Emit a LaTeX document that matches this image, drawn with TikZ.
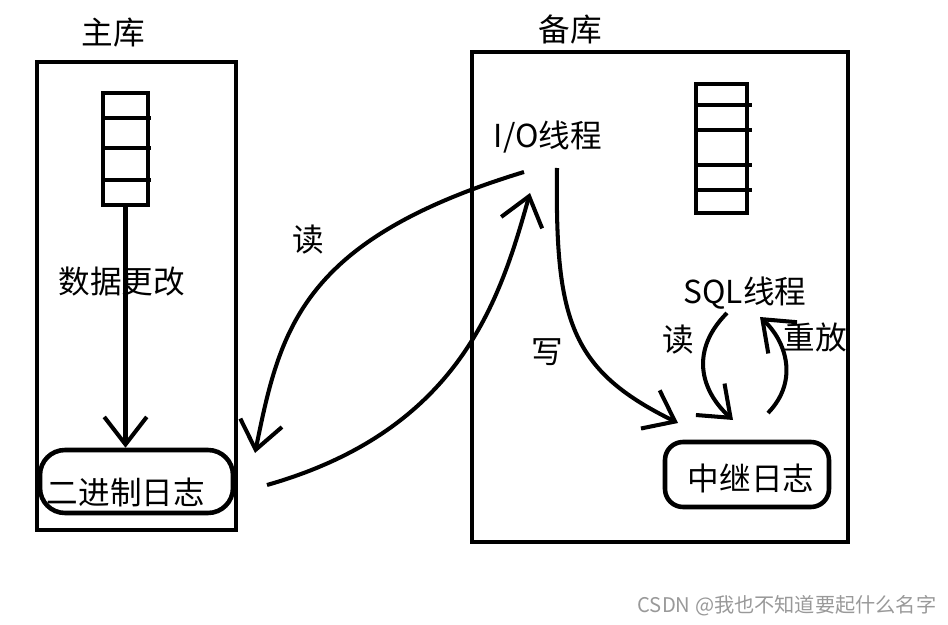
\documentclass[tikz,border=0pt]{standalone}
\usepackage{fontspec}
\newfontfamily\cjk{Noto Sans CJK SC}
\usetikzlibrary{arrows.meta}
\begin{document}
\begin{tikzpicture}[x=0.02cm, y=-0.02cm,
  line width=2.3pt,
  label/.style={font=\cjk\fontsize{18}{21}\selectfont, inner sep=0pt},
  stack/.style={draw, line width=2.6pt, inner sep=0pt},
  logbox/.style={draw, line width=2.6pt, inner sep=0pt},
  barb/.style={-{Straight Barb[length=0.55cm, width=0.85cm]}}]
\useasboundingbox (0,0) rectangle (948,625);
% Hauptdatenbank
\draw[line width=2.6pt] (37,62) rectangle (236,530);
\node[label] (mastertitle) at (113,33) {主库};
\node[stack, minimum width=0.9cm, minimum height=2.24cm] (stackA) at (125.5,149) {};
\foreach \y in {118,148,180}
  \draw[line width=2.6pt] (104,\y) -- (151,\y);
\node[logbox, rounded corners=0.5cm, minimum width=3.86cm, minimum height=1.26cm] (binlog) at (136.5,481.5) {};
\node[label] (binlogtext) at (126,492) {二进制日志};
\node[label] (change) at (122,282) {数据更改};
\draw[barb] (stackA.south) -- (stackA.south |- binlog.north);
% Replikat
\draw[line width=2.6pt] (472,52) rectangle (848,542);
\node[label] (slavetitle) at (570,30) {备库};
\node[label] (io) at (548,137) {I/O线程};
\node[stack, minimum width=1.02cm, minimum height=2.58cm] (stackB) at (721.5,148.5) {};
\foreach \y in {105,130,165,190}
  \draw[line width=2.6pt] (697,\y) -- (752,\y);
\node[label] (sql) at (745,293) {SQL线程};
\node[logbox, rounded corners=0.36cm, minimum width=3.28cm, minimum height=1.3cm] (relay) at (747,474.5) {};
\node[label] (relaytext) at (751,478) {中继日志};
% Pfeile
\coordinate (ioread) at (524,172);
\coordinate (binin) at (255,453);
\coordinate (binout) at (267,485);
\coordinate (ioin) at (530,193);
\coordinate (iowrite) at (557,168);
\coordinate (relayin) at (678,423);
\coordinate (sqlread) at (727,313);
\coordinate (relayread) at (733,420);
\coordinate (relayout) at (768,413);
\coordinate (sqlin) at (760,317);
\draw[barb] (ioread) .. controls (300,240) and (280,330) .. (binin);
\draw[barb] (binout) .. controls (460,430) and (500,300) .. (ioin);
\draw[barb] (iowrite) .. controls (555,320) and (570,370) .. (relayin);
\draw[barb] (sqlread) .. controls (690,350) and (700,390) .. (relayread);
\draw[barb] (relayout) .. controls (800,380) and (785,340) .. (sqlin);
\node[label] (readA) at (308,240) {读};
\node[label] (write) at (547,352) {写};
\node[label] (readB) at (678,340) {读};
\node[label] (replay) at (815,337) {重放};
\node[font=\cjk\fontsize{11.5}{13}\selectfont, text=black!40, inner sep=0pt] (mark) at (787,606) {CSDN @我也不知道要起什么名字};
\end{tikzpicture}
\end{document}
